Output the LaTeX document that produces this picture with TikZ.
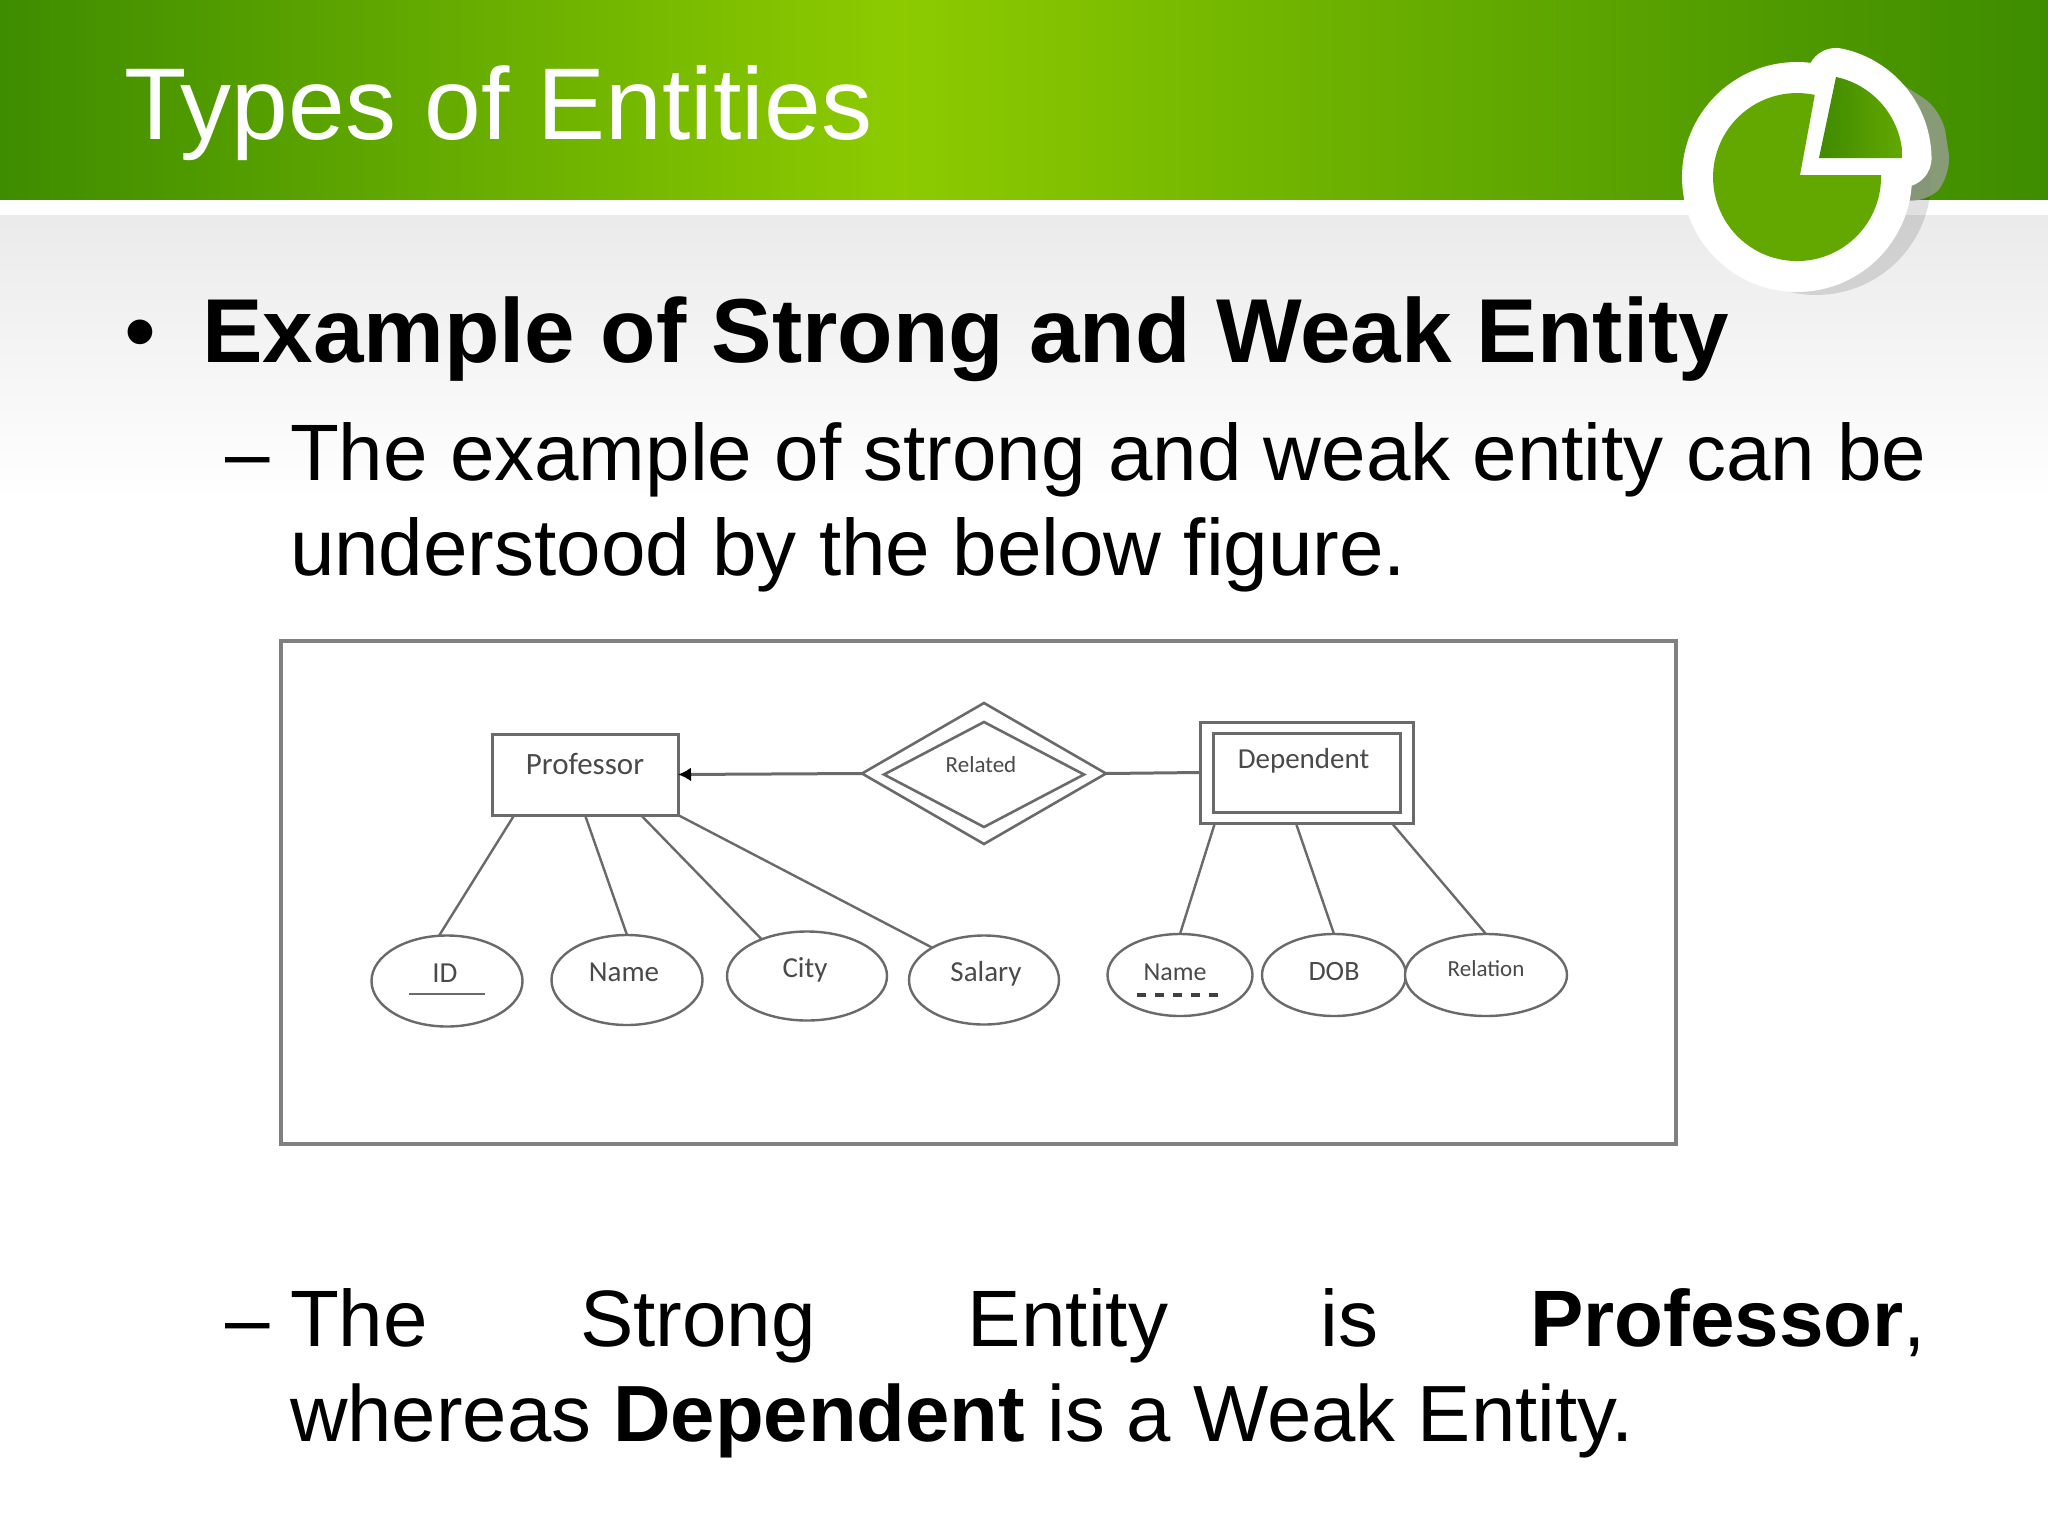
\documentclass[tikz,border=0pt]{standalone}
\usepackage{fontspec}
\setmainfont{Liberation Sans}
\newfontfamily\dgfont{Carlito}
\usetikzlibrary{shapes.geometric,arrows.meta,calc}
\definecolor{bandedge}{HTML}{3E8C00}
\definecolor{bandmid}{HTML}{8DCB00}
\definecolor{logogreen}{HTML}{62A800}
\definecolor{logodark}{HTML}{3F8A00}
\definecolor{dgline}{HTML}{6A6A6A}
\definecolor{dgtext}{HTML}{4A4A4A}
\pgfdeclarehorizontalshading{bandshade}{100bp}{color(0bp)=(bandedge); color(25bp)=(bandedge); color(36bp)=(bandedge!50!bandmid); color(47bp)=(bandmid); color(60bp)=(bandedge!50!bandmid); color(75bp)=(bandedge); color(100bp)=(bandedge)}
\newcommand{\fs}[1]{\fontsize{#1}{#1}\selectfont}
\tikzset{
  lnk/.style={draw=dgline,line width=2.4pt},
  ent/.style={rectangle,draw=dgline,line width=3pt,fill=white,inner sep=0pt,outer sep=0pt},
  rel/.style={diamond,draw=dgline,line width=2.6pt,fill=white,inner sep=0pt,outer sep=0pt,shape aspect=1.73},
  attr/.style={ellipse,draw=dgline,line width=2.4pt,fill=white,inner sep=0pt,outer sep=0pt},
  lbl/.style={text=dgtext,inner sep=0pt,font=\dgfont\fs{#1}},
  txt/.style={anchor=base west,inner sep=0pt,outer sep=0pt,text=black},
}
\begin{document}
\begin{tikzpicture}[x=1pt,y=-1pt]
\useasboundingbox (0,0) rectangle (2048,1536);
% background
\fill[white] (0,0) rectangle (2048,1536);
\shade[top color=black!8,bottom color=white] (0,215) rectangle (2048,500);
\path[shading=bandshade] (0,0) rectangle (2048,199);
% logo
\fill[black,opacity=.12] (1816,180) circle[radius=115];
\fill[gray!75!white,opacity=.75,rounded corners=22pt] (1880,70) -- (1942,110) -- (1952,175) -- (1925,205) -- (1880,195) -- cycle;
\fill[white] (1797,177) circle[radius=115];
\draw[white,fill=white,line width=58pt,line join=round] (1819,158) -- (1836,77) arc[start angle=-78,end angle=-0.7,radius=84] -- cycle;
\fill[logogreen] (1800,175) -- (1881,175) arc[start angle=-1.4,end angle=282.2,radius=84] -- cycle;
\shade[shading angle=45,left color=logodark,right color=logogreen] (1819,158) -- (1836,77) arc[start angle=-78,end angle=-0.7,radius=84] -- cycle;
% title and text
\node[txt,text=white] (title) at (124,140) {\fs{102}Types of Entities};
\node[txt] (bul) at (124,362) {\fs{91}•};
\node[txt] (head) at (202,362) {\fs{90.8}\textbf{Example of Strong and Weak Entity}};
\node[txt] (d1) at (225,480) {\fs{80}–};
\node[txt] (l1) at (290,480) {\fs{80}The example of strong and weak entity can be};
\node[txt] (l2) at (290,575) {\fs{80}understood by the below figure.};
\node[txt] (d2) at (225,1346) {\fs{80}–};
\node[txt] (l3) at (290,1346) {\fs{80}\hbox to 1636pt{The\hfill Strong\hfill Entity\hfill is\hfill\textbf{Professor},}};
\node[txt] (l4) at (290,1441) {\fs{79.7}whereas \textbf{Dependent} is a Weak Entity.};
% frame
\node[rectangle,draw=black!50,line width=3.5pt,fill=white,minimum width=1395pt,minimum height=503pt,inner sep=0pt] (frame) at (978.5,892.5) {};
% entities
\node[ent,minimum width=186pt,minimum height=81pt,label={[lbl=31,yshift=11pt]center:Professor}] (prof) at (585,774.5) {};
\node[rel,minimum width=244pt,minimum height=141pt] (relo) at (984,773.5) {};
\node[rel,minimum width=200pt,minimum height=105pt,label={[lbl=23,xshift=-3pt,yshift=10pt]center:Related}] (reli) at (984,774.5) {};
\node[ent,minimum width=213pt,minimum height=101pt] (depo) at (1306.5,772.5) {};
\node[ent,minimum width=187pt,minimum height=79pt,label={[lbl=29,xshift=-3pt,yshift=12pt]center:Dependent}] (depi) at (1306.5,772.5) {};
% attributes
\node[attr,minimum width=151pt,minimum height=91pt,label={[lbl=29,xshift=-2pt,yshift=8pt]center:ID}] (id) at (447,981) {};
\node[attr,minimum width=151pt,minimum height=90pt,label={[lbl=29,xshift=-3pt,yshift=8pt]center:Name}] (name) at (627,980) {};
\node[attr,minimum width=160pt,minimum height=89pt,label={[lbl=29,xshift=-2pt,yshift=6pt]center:City}] (city) at (807,976) {};
\node[attr,minimum width=150pt,minimum height=89pt,label={[lbl=29,xshift=2pt,yshift=6pt]center:Salary}] (salary) at (984,980) {};
\node[attr,minimum width=145pt,minimum height=82pt,label={[lbl=26,xshift=-5pt,yshift=3pt]center:Name}] (dname) at (1180,975) {};
\node[attr,minimum width=144pt,minimum height=82pt,label={[lbl=28,xshift=0pt,yshift=3pt]center:DOB}] (dob) at (1334,975) {};
\node[attr,minimum width=162pt,minimum height=82pt,label={[lbl=23,xshift=0pt,yshift=6pt]center:Relation}] (relation) at (1486,975) {};
% connectors
\draw[lnk,line width=3pt,-{Latex[black,length=13pt,width=14pt]}] (relo.west) -- (prof.east);
\draw[lnk,line width=3pt] (relo.east) -- (depo.west);
\draw[lnk] ($(prof.south west)!.12!(prof.south east)$) -- (id.100);
\draw[lnk] (prof.south) -- (name.90);
\draw[lnk] ($(prof.south west)!.80!(prof.south east)$) -- (city.141);
\draw[lnk] (prof.south east) -- (salary.148);
\draw[lnk] ($(depo.south west)!.07!(depo.south east)$) -- (dname.90);
\draw[lnk] ($(depo.south west)!.45!(depo.south east)$) -- (dob.90);
\draw[lnk] ($(depo.south west)!.90!(depo.south east)$) -- (relation.90);
% key markers
\draw[dgline,line width=2.4pt] ([xshift=-38pt,yshift=-13pt]id.center) -- ([xshift=38pt,yshift=-13pt]id.center);
\draw[black!75,line width=3.4pt,dash pattern=on 9pt off 9pt] ([xshift=-43pt,yshift=-20pt]dname.center) -- ([xshift=38pt,yshift=-20pt]dname.center);
\end{tikzpicture}
\end{document}
